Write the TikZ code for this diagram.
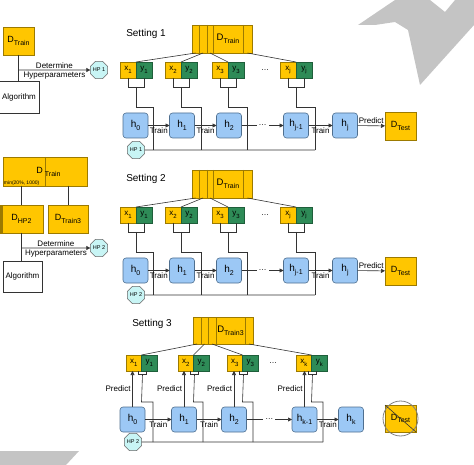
\documentclass[tikz,border=0pt]{standalone}
\usepackage{fontspec}
\setmainfont{Liberation Sans}
\usetikzlibrary{arrows.meta,shapes.geometric}
\definecolor{dy}{HTML}{FFC600}
\definecolor{dyb}{HTML}{9C7A00}
\definecolor{dg}{HTML}{2E8B57}
\definecolor{dgb}{HTML}{1E5E3A}
\definecolor{hb}{HTML}{9CC8F5}
\definecolor{hbb}{HTML}{4F6F8F}
\definecolor{hpc}{HTML}{C8F5F5}
\definecolor{lnc}{HTML}{333333}
\definecolor{wm}{HTML}{C4C4C4}
\newcommand\lowsub[1]{\raisebox{-0.6ex}{\fontsize{7}{7}\selectfont #1}}
\newcommand\lowsubs[1]{\raisebox{-0.6ex}{\fontsize{6}{6}\selectfont #1}}
% #1 prefix, #2 left x, #3 centre y, #4 x sub, #5 y sub, #6 width
\newcommand\mkpair[6]{%
  \node[xb, minimum width=#6pt, minimum height=16pt] (#1x) at ({#2+#6/2},#3) {x\lowsubs{#4}};
  \node[yb, minimum width=#6pt, minimum height=16pt] (#1y) at ({#2+#6*1.5},#3) {y\lowsubs{#5}};
}
% #1 prefix, #2 y shift, #3 number, #4 HP text
\newcommand\settingAB[4]{%
\begin{scope}[shift={(0,#2)}]
  \node[stitle] (#1t) at (146,34) {Setting #3};
  \node[db, minimum width=60pt, minimum height=28pt] (#1d) at (222,39) {};
  \foreach \dx in {7,15,21,51} \draw[dyb, line width=0.6pt] ([xshift=\dx pt]#1d.north west) -- ([xshift=\dx pt]#1d.south west);
  \node[font=\fontsize{9.5}{11}\selectfont] (#1dl) at (228,39) {D\lowsub{Train}};
  \mkpair{#1p1}{120}{70}{1}{1}{16}
  \mkpair{#1p2}{165}{70}{2}{2}{16}
  \mkpair{#1p3}{212}{70}{3}{3}{16}
  \mkpair{#1pj}{280}{70}{j}{j}{16}
  \node[lbl] (#1pd) at (265,70) {\dots};
  \draw[ln] ([xshift=3.5pt]#1d.south west) -- (#1p1x.north east);
  \draw[ln] ([xshift=11pt]#1d.south west) -- (#1p2x.north east);
  \draw[ln] ([xshift=18pt]#1d.south west) -- (#1p3x.north east);
  \draw[ln] ([xshift=55.5pt]#1d.south west) -- (#1pjx.north east);
  \node[hbox] (#1h0) at (135.5,125.5) {h\lowsub{0}};
  \node[hbox] (#1h1) at (182,125.5) {h\lowsub{1}};
  \node[hbox] (#1h2) at (229,125.5) {h\lowsub{2}};
  \node[hbox] (#1hm) at (296,125.5) {h\lowsub{j-1}};
  \node[hbox] (#1hj) at (345,125.5) {h\lowsub{j}};
  \node[db, minimum width=31pt, minimum height=28pt] (#1test) at (400.5,126) {D\lowsub{Test}};
  \coordinate (#1c1) at (153,150);
  \coordinate (#1c2) at (201,150);
  \coordinate (#1c3) at (247,150);
  \coordinate (#1c4) at (315,150);
  \foreach \p/\c in {p1/c1,p2/c2,p3/c3,pj/c4}{
    \draw[ln] (#1\p x.south) -- ++(0,9) -| (#1\p y.south);
    \draw[ln] ([yshift=-9pt]#1\p x.south east) -- ++(0,20) -| (#1\c);
  }
  \draw[arr] (#1h0) -- node[lbl, below=1pt] {Train} (#1h1);
  \draw[arr] (#1h1) -- node[lbl, below=1pt] {Train} (#1h2);
  \draw[arr] (#1h2) -- node[lbl, fill=white, inner sep=2pt] {\dots} (#1hm);
  \draw[arr] (#1hm) -- node[lbl, below=1pt] {Train} (#1hj);
  \draw[arr] (#1hj) -- node[lbl, above=1pt] {Predict} (#1test);
  \node[hp] (#1hp) at (136,150) {#4};
  \draw[ln] (#1hp.east) -- (#1c4);
\end{scope}}
\begin{document}
\begin{tikzpicture}[x=1pt,y=-1pt,
  every node/.style={inner sep=0pt, outer sep=0pt},
  ln/.style={draw=lnc, line width=0.6pt},
  xb/.style={fill=dy, draw=dyb, line width=0.6pt, font=\fontsize{8}{9}\selectfont},
  yb/.style={fill=dg, draw=dgb, line width=0.6pt, font=\fontsize{8}{9}\selectfont},
  db/.style={fill=dy, draw=dyb, line width=0.6pt, font=\fontsize{9}{10}\selectfont},
  hbox/.style={fill=hb, draw=hbb, rounded corners=3pt, minimum width=25pt, minimum height=25pt, line width=0.6pt, font=\fontsize{10}{11}\selectfont},
  wbox/.style={fill=white, draw=lnc, line width=0.6pt, font=\fontsize{8}{9}\selectfont},
  hp/.style={regular polygon, regular polygon sides=8, minimum size=16pt, fill=hpc, draw=gray!80!black, line width=0.5pt, font=\fontsize{5.5}{6}\selectfont},
  lbl/.style={font=\fontsize{8}{9}\selectfont, inner sep=1pt},
  arr/.style={ln, -{Triangle[length=4pt,width=4pt]}},
  stitle/.style={font=\fontsize{10}{12}\selectfont}
]
\useasboundingbox (0,0) rectangle (474,465);
% watermark shapes
\fill[wm] (358,25) -- (395,0) -- (430,0) -- (445,12) -- (455,0) -- (474,0) -- (474,25) -- (420,85) -- (408,30) -- (395,22) -- (375,25) -- cycle;
\fill[wm] (0,451) -- (79,451) -- (66,465) -- (0,465) -- cycle;

% left: top panel
\node[db, minimum width=31pt, minimum height=28pt] (ldtr) at (18.5,41) {D\lowsub{Train}};
\node[wbox, minimum width=41pt, minimum height=32pt] (lalg1) at (19,97) {Algorithm};
\node[hp] (lhp1) at (99,70) {HP 1};
\draw[ln] (ldtr.south) -- (ldtr.south |- lalg1.north);
\coordinate (lj1) at (ldtr.south |- lhp1.west);
\draw[arr] (lj1) -- node[lbl, above=0.5pt] {Determine} node[lbl, below=0.5pt] {Hyperparameters} (lhp1);

% left: middle panel
\node[db, minimum width=84pt, minimum height=29pt] (ldtr2) at (45,171.5) {};
\draw[dyb, line width=0.6pt] (ldtr2.north) -- (ldtr2.south);
\node[font=\fontsize{9}{10}\selectfont] (ldtr2l) at (48.5,172) {D\hspace{2pt}\lowsub{Train}};
\node[font=\fontsize{5}{5}\selectfont, anchor=south west] (lmin) at (4,185.5) {min(20\%, 1000)};
\node[db, minimum width=43pt, minimum height=28pt] (ldhp) at (21.5,219) {D\lowsub{HP2}};
\fill[dyb] (ldhp.north west) rectangle ([xshift=2.5pt]ldhp.south west);
\node[db, minimum width=40pt, minimum height=28pt] (ldtr3) at (68,219) {D\lowsub{Train3}};
\draw[ln] (ldhp.north |- ldtr2.south) -- (ldhp.north);
\draw[ln] (ldtr3.north |- ldtr2.south) -- (ldtr3.north);
\node[wbox, minimum width=39pt, minimum height=31pt] (lalg2) at (22.5,276.5) {Algorithm};
\node[hp] (lhp2) at (99,248) {HP 2};
\draw[ln] (ldhp.south) -- (ldhp.south |- lalg2.north);
\coordinate (lj2) at (ldhp.south |- lhp2.west);
\draw[arr] (lj2) -- node[lbl, above=0.5pt] {Determine} node[lbl, below=0.5pt] {Hyperparameters} (lhp2);

% settings 1 and 2
\settingAB{sa}{0}{1}{HP 1}
\settingAB{sb}{145}{2}{HP 2}

% setting 3
\node[stitle] (s3t) at (152,324) {Setting 3};
\node[db, minimum width=60pt, minimum height=27pt] (s3d) at (223,330.5) {};
\foreach \dx in {8,15,23,52} \draw[dyb, line width=0.6pt] ([xshift=\dx pt]s3d.north west) -- ([xshift=\dx pt]s3d.south west);
\node[font=\fontsize{9.5}{11}\selectfont] (s3dl) at (230.5,331) {D\lowsub{Train3}};
\mkpair{s3p1}{126}{363}{1}{1}{15.5}
\mkpair{s3p2}{178}{363}{2}{2}{15.5}
\mkpair{s3p3}{227}{363}{3}{3}{15.5}
\mkpair{s3pk}{296}{363}{k}{k}{15.5}
\node[lbl] (s3pd) at (273,363) {\dots};
\draw[ln] ([xshift=4pt]s3d.south west) -- (s3p1x.north east);
\draw[ln] ([xshift=11.5pt]s3d.south west) -- (s3p2x.north east);
\draw[ln] ([xshift=19pt]s3d.south west) -- (s3p3x.north east);
\draw[ln] ([xshift=56pt]s3d.south west) -- (s3pkx.north east);
\node[hbox] (s3h0) at (132.5,419.5) {h\lowsub{0}};
\node[hbox] (s3h1) at (184,419.5) {h\lowsub{1}};
\node[hbox] (s3h2) at (234,419.5) {h\lowsub{2}};
\node[hbox] (s3hm) at (304.5,419.5) {h\lowsub{k-1}};
\node[hbox] (s3hk) at (351,419.5) {h\lowsub{k}};
\node[db, minimum width=31pt, minimum height=27pt] (s3test) at (400.5,418.5) {D\lowsub{Test}};
\draw[gray, line width=0.8pt] (s3test.center) circle (17.5pt);
\draw[lnc, line width=0.6pt] (s3test.north west) -- (s3test.south east);
\coordinate (s3c1) at (153,442);
\coordinate (s3c2) at (203,442);
\coordinate (s3c3) at (253,442);
\coordinate (s3c4) at (323,442);
\foreach \p/\c/\h in {p1/c1/h0,p2/c2/h1,p3/c3/h2,pk/c4/hm}{
  \draw[ln] ([xshift=-3pt]s3\p x.south east) -- ++(0,3.5) -- ++(8,0) -- ++(0,-3.5);
  \draw[ln] ([xshift=1pt,yshift=-3.5pt]s3\p x.south east) -- (s3\p x.south east |- 0,402) -| (s3\c);
  \draw[arr] (s3\h.north) -- node[lbl, left=1pt] {Predict} (s3\h.north |- s3\p x.south);
}
\draw[arr] (s3h0) -- node[lbl, below=1pt] {Train} (s3h1);
\draw[arr] (s3h1) -- node[lbl, below=1pt] {Train} (s3h2);
\draw[arr] (s3h2) -- node[lbl, fill=white, inner sep=2pt] {\dots} (s3hm);
\draw[arr] (s3hm) -- node[lbl, below=1pt] {Train} (s3hk);
\node[hp] (s3hp) at (133,442) {HP 2};
\draw[ln] (s3hp.east) -- (s3c4);
\end{tikzpicture}
\end{document}
